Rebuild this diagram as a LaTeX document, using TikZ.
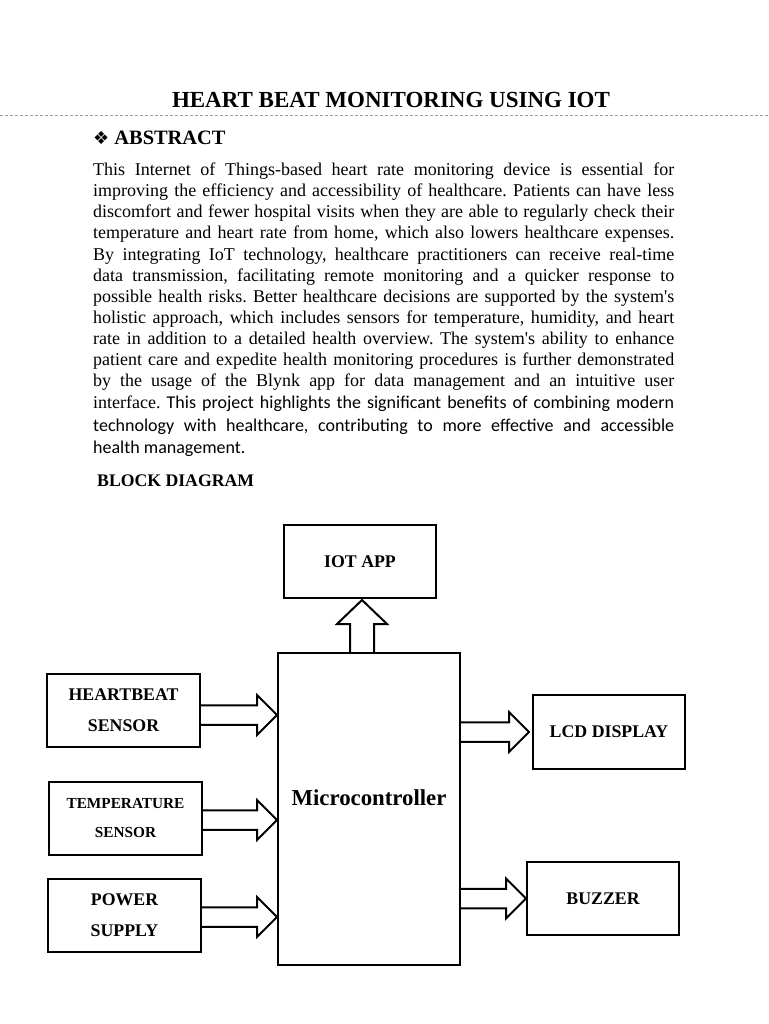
\documentclass[tikz,border=0pt]{standalone}
\usepackage{fontspec}
\setmainfont{Liberation Serif}
\newfontfamily\carl{Carlito}
\newfontfamily\djv{DejaVu Sans}
\usetikzlibrary{calc}
\frenchspacing
\tikzset{
  box/.style={draw, line width=2pt, inner sep=0pt, minimum width=152pt, minimum height=73pt, align=center},
  lbl/.style={font=\bfseries\fontsize{17.8}{31}\selectfont},
  smlbl/.style={font=\bfseries\fontsize{15.3}{29}\selectfont},
  blk/.style={draw, line width=2pt, line join=miter},
  bodyline/.style={anchor=base west, inner sep=0pt, font=\frenchspacing\fontsize{18}{21}\selectfont},
  dashline/.style={draw=gray!75, line width=1pt, dash pattern=on 3pt off 2pt},
}
\newcommand\hblock[2]{%
  \draw[blk] let \p1=(#1), \p2=(#2) in
    ($(\x1,\y2)+(0,-9.75)$) -- ($(#2)+(-20,-9.75)$) -- ($(#2)+(-20,-20)$) -- (#2)
    -- ($(#2)+(-20,20)$) -- ($(#2)+(-20,9.75)$) -- ($(\x1,\y2)+(0,9.75)$);}
\newcommand\vblock[2]{%
  \draw[blk] let \p1=(#1), \p2=(#2) in
    ($(\x2,\y1)+(-12,0)$) -- ($(#2)+(-12,24)$) -- ($(#2)+(-25,24)$) -- (#2)
    -- ($(#2)+(25,24)$) -- ($(#2)+(12,24)$) -- ($(\x2,\y1)+(12,0)$);}
\newcommand\jl[1]{\makebox[581pt][s]{#1}}
\begin{document}
\begin{tikzpicture}[x=1pt,y=-1pt]
\useasboundingbox (0,0) rectangle (768,1024);
\fill[white] (0,0) rectangle (768,1024);

% header
\node[anchor=base, inner sep=0pt, font=\bfseries\fontsize{23}{27}\selectfont] (title) at (391,108) {HEART BEAT MONITORING USING IOT};
\draw[dashline] (0,116) -- (768,116);
\node[anchor=base west, inner sep=0pt, font=\bfseries\fontsize{20.4}{24}\selectfont] (abs) at (93,145) {{\djv\fontsize{18}{20}\selectfont ❖} ABSTRACT};

% abstract text
\node[bodyline] (l1) at (93,176) {\jl{This Internet of Things-based heart rate monitoring device is essential for}};
\node[bodyline] (l2) at (93,197) {\jl{improving the efficiency and accessibility of healthcare. Patients can have less}};
\node[bodyline] (l3) at (93,218) {\jl{discomfort and fewer hospital visits when they are able to regularly check their}};
\node[bodyline] (l4) at (93,239) {\jl{temperature and heart rate from home, which also lowers healthcare expenses.}};
\node[bodyline] (l5) at (93,260) {\jl{By integrating IoT technology, healthcare practitioners can receive real-time}};
\node[bodyline] (l6) at (93,281) {\jl{data transmission, facilitating remote monitoring and a quicker response to}};
\node[bodyline] (l7) at (93,302) {\jl{possible health risks. Better healthcare decisions are supported by the system\textquotesingle s}};
\node[bodyline] (l8) at (93,323) {\jl{holistic approach, which includes sensors for temperature, humidity, and heart}};
\node[bodyline] (l9) at (93,344) {\jl{rate in addition to a detailed health overview. The system\textquotesingle s ability to enhance}};
\node[bodyline] (l10) at (93,365) {\jl{patient care and expedite health monitoring procedures is further demonstrated}};
\node[bodyline] (l11) at (93,386) {\jl{by the usage of the Blynk app for data management and an intuitive user}};
\node[bodyline] (l12) at (93,408) {\jl{interface.{\carl{} This project highlights the significant benefits of combining modern}}};
\node[bodyline] (l13) at (93,431) {\carl\jl{technology with healthcare, contributing to more effective and accessible}};
\node[bodyline] (l14) at (93,453) {\carl health management.};

\node[anchor=base west, inner sep=0pt, font=\bfseries\fontsize{17.7}{21}\selectfont] (bd) at (97,486) {BLOCK DIAGRAM};

% blocks
\node[box, lbl] (iot) at (360,561.5) {IOT APP};
\node[box, minimum width=182pt, minimum height=312pt] (mc) at (369,809) {};
\node[font=\bfseries\fontsize{22.8}{26}\selectfont, inner sep=0pt] (mct) at ($(mc.center)+(0,-11)$) {Microcontroller};
\node[box, lbl, minimum width=153pt] (hb) at (123.5,710.5) {HEARTBEAT\\SENSOR};
\node[box, smlbl, minimum width=153pt] (tmp) at (125.5,818.5) {TEMPERATURE\\SENSOR};
\node[box, lbl, minimum width=153pt] (pw) at (124.5,915.5) {POWER\\SUPPLY};
\node[box, lbl, minimum height=74pt] (lcd) at (609,732) {LCD DISPLAY};
\node[box, lbl] (bz) at (603,898.5) {BUZZER};

% arrow tips
\coordinate (t1) at ($(mc.west |- hb.east)+(0,4.5)$);
\coordinate (t2) at ($(mc.west |- tmp.east)+(0,1.5)$);
\coordinate (t3) at ($(mc.west |- pw.east)+(0,1.5)$);
\coordinate (t4) at ($(lcd.west)+(-3,0)$);
\coordinate (t5) at (bz.west);
\coordinate (tu) at ($(iot.south)+(2,1)$);

\hblock{hb.east}{t1}
\hblock{tmp.east}{t2}
\hblock{pw.east}{t3}
\hblock{mc.east}{t4}
\hblock{mc.east}{t5}
\vblock{mc.north}{tu}
\end{tikzpicture}
\end{document}
